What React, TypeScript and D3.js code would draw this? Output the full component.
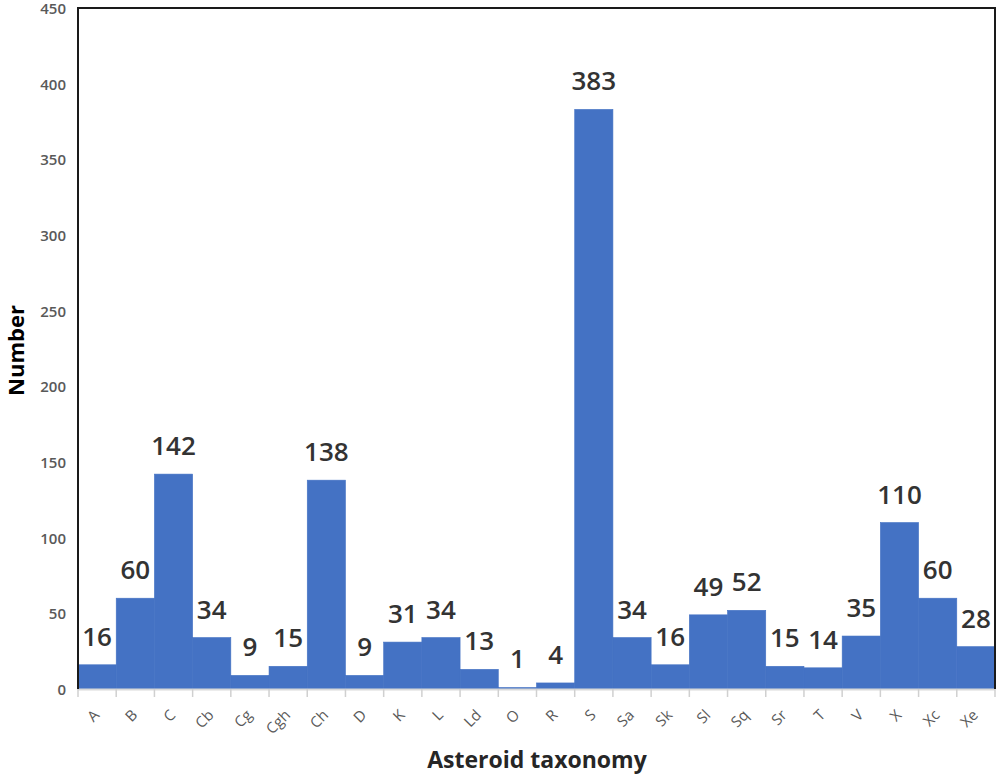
import React, { useRef, useEffect } from 'react'
import * as d3 from 'd3'

const categories = ['A', 'B', 'C', 'Cb', 'Cg', 'Cgh', 'Ch', 'D', 'K', 'L', 'Ld', 'O', 'R', 'S', 'Sa', 'Sk', 'Sl', 'Sq', 'Sr', 'T', 'V', 'X', 'Xc', 'Xe']
const counts = [16, 60, 142, 34, 9, 15, 138, 9, 31, 34, 13, 1, 4, 383, 34, 16, 49, 52, 15, 14, 35, 110, 60, 28]
const yTicks = [0, 50, 100, 150, 200, 250, 300, 350, 400, 450]

const layout = { width: 998, height: 780, left: 78, right: 995, top: 8, bottom: 689 }

export default function App() {
  const ref = useRef<SVGSVGElement>(null)

  useEffect(() => {
    const svg = d3.select(ref.current)
    svg.selectAll('*').remove()

    const xScale = d3.scaleBand<string>()
      .domain(categories)
      .range([layout.left, layout.right])
      .padding(0)

    const yScale = d3.scaleLinear()
      .domain([0, 450])
      .range([layout.bottom, layout.top])

    const data = categories.map((c, i) => ({ cat: c, value: counts[i] }))

    // bars
    svg.append('g')
      .selectAll('rect')
      .data(data)
      .join('rect')
      .attr('x', d => xScale(d.cat)!)
      .attr('y', d => yScale(d.value))
      .attr('width', xScale.bandwidth())
      .attr('height', d => layout.bottom - yScale(d.value))
      .attr('fill', '#4472C4')
      .attr('stroke', '#4472C4')
      .attr('stroke-width', 0.6)

    // value labels
    svg.append('g')
      .selectAll('text')
      .data(data)
      .join('text')
      .attr('x', d => xScale(d.cat)! + xScale.bandwidth() / 2)
      .attr('y', d => yScale(d.value) - 19)
      .attr('text-anchor', 'middle')
      .attr('font-family', 'Open Sans, sans-serif')
      .attr('font-size', 26)
      .attr('font-weight', 600)
      .attr('fill', '#333333')
      .text(d => d.value)

    // x axis line + ticks
    const xAxis = svg.append('g')
    xAxis.append('line')
      .attr('x1', layout.left).attr('x2', layout.right)
      .attr('y1', layout.bottom + 0.5).attr('y2', layout.bottom + 0.5)
      .attr('stroke', '#d9d9d9').attr('stroke-width', 2)
    const bounds = categories.map(c => xScale(c)!).concat([layout.right])
    xAxis.selectAll('.tick')
      .data(bounds)
      .join('line')
      .attr('class', 'tick')
      .attr('x1', d => d).attr('x2', d => d)
      .attr('y1', layout.bottom).attr('y2', layout.bottom + 8)
      .attr('stroke', '#d0d0d0').attr('stroke-width', 1.5)
    xAxis.selectAll('.xlabel')
      .data(categories)
      .join('text')
      .attr('class', 'xlabel')
      .attr('transform', d => `translate(${xScale(d)! + xScale.bandwidth() / 2 + 3}, 716) rotate(-45)`)
      .attr('text-anchor', 'end')
      .attr('font-family', 'Open Sans, sans-serif')
      .attr('font-size', 15)
      .attr('fill', '#595959')
      .text(d => d)

    // y tick labels
    svg.append('g')
      .selectAll('text')
      .data(yTicks)
      .join('text')
      .attr('x', 66)
      .attr('y', d => Math.max(yScale(d) + 6, 14))
      .attr('text-anchor', 'end')
      .attr('font-family', 'Open Sans, sans-serif')
      .attr('font-size', 15)
      .attr('font-weight', 600)
      .attr('fill', '#595959')
      .text(d => d)

    // frame (left, top, right)
    svg.append('path')
      .attr('d', `M${layout.left},${layout.bottom} V${layout.top} H${layout.right} V${layout.bottom}`)
      .attr('fill', 'none')
      .attr('stroke', '#1a1a1a')
      .attr('stroke-width', 2)

    // axis titles
    svg.append('text')
      .attr('transform', `translate(24, ${(layout.top + layout.bottom) / 2 + 2}) rotate(-90)`)
      .attr('text-anchor', 'middle')
      .attr('font-family', 'Open Sans, sans-serif')
      .attr('font-size', 22)
      .attr('font-weight', 700)
      .attr('fill', '#000')
      .text('Number')

    svg.append('text')
      .attr('x', 537)
      .attr('y', 768)
      .attr('text-anchor', 'middle')
      .attr('font-family', 'Open Sans, sans-serif')
      .attr('font-size', 23)
      .attr('font-weight', 700)
      .attr('fill', '#262626')
      .text('Asteroid taxonomy')
  }, [])

  return (
    <div style={{ position: 'absolute', left: 0, top: 0 }}>
      <svg ref={ref} width={layout.width} height={layout.height} style={{ display: 'block', background: '#fff' }} />
    </div>
  )
}
